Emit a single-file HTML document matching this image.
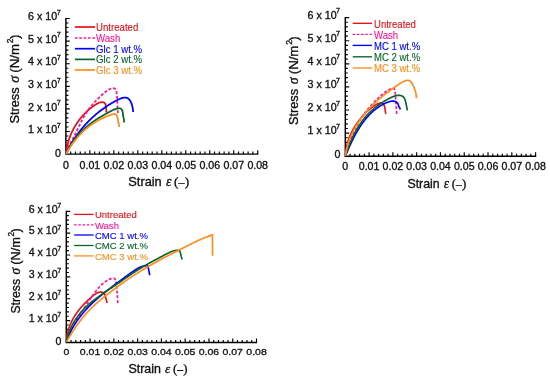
<!DOCTYPE html>
<html><head><meta charset="utf-8"><title>Stress-strain curves</title>
<style>
html,body{margin:0;padding:0;background:#fff}
svg{display:block}
text{font-family:"Liberation Sans", sans-serif;fill:#111;stroke:#111;stroke-width:0.33px}
.it{font-family:"Liberation Serif", serif;font-style:italic}
.se{font-family:"Liberation Serif", serif}
.lg{stroke-width:0.12px}
</style></head><body>
<svg width="550" height="380" viewBox="0 0 550 380">
<rect width="550" height="380" fill="#fff"/>
<g>
<path d="M65.9 17.9 V154.1 H258.3" fill="none" stroke="#000" stroke-width="1.45" stroke-linejoin="miter"/>
<path d="M65.9 149.58 h2.55 M65.9 145.06 h2.55 M65.9 140.54 h2.55 M65.9 136.02 h2.55 M65.9 131.5 h3.9 M65.9 126.98 h2.55 M65.9 122.46 h2.55 M65.9 117.94 h2.55 M65.9 113.42 h2.55 M65.9 108.9 h3.9 M65.9 104.38 h2.55 M65.9 99.86 h2.55 M65.9 95.34 h2.55 M65.9 90.82 h2.55 M65.9 86.3 h3.9 M65.9 81.78 h2.55 M65.9 77.26 h2.55 M65.9 72.74 h2.55 M65.9 68.22 h2.55 M65.9 63.7 h3.9 M65.9 59.18 h2.55 M65.9 54.66 h2.55 M65.9 50.14 h2.55 M65.9 45.62 h2.55 M65.9 41.1 h3.9 M65.9 36.58 h2.55 M65.9 32.06 h2.55 M65.9 27.54 h2.55 M65.9 23.02 h2.55 M65.9 18.5 h3.9 M70.7 154.1 v-2.55 M75.49 154.1 v-2.55 M80.29 154.1 v-2.55 M85.08 154.1 v-2.55 M89.88 154.1 v-3.9 M94.67 154.1 v-2.55 M99.47 154.1 v-2.55 M104.26 154.1 v-2.55 M109.06 154.1 v-2.55 M113.85 154.1 v-3.9 M118.64 154.1 v-2.55 M123.44 154.1 v-2.55 M128.24 154.1 v-2.55 M133.03 154.1 v-2.55 M137.82 154.1 v-3.9 M142.62 154.1 v-2.55 M147.42 154.1 v-2.55 M152.21 154.1 v-2.55 M157 154.1 v-2.55 M161.8 154.1 v-3.9 M166.59 154.1 v-2.55 M171.39 154.1 v-2.55 M176.19 154.1 v-2.55 M180.98 154.1 v-2.55 M185.78 154.1 v-3.9 M190.57 154.1 v-2.55 M195.36 154.1 v-2.55 M200.16 154.1 v-2.55 M204.96 154.1 v-2.55 M209.75 154.1 v-3.9 M214.54 154.1 v-2.55 M219.34 154.1 v-2.55 M224.13 154.1 v-2.55 M228.93 154.1 v-2.55 M233.72 154.1 v-3.9 M238.52 154.1 v-2.55 M243.31 154.1 v-2.55 M248.11 154.1 v-2.55 M252.9 154.1 v-2.55 M257.7 154.1 v-3.9" fill="none" stroke="#000" stroke-width="1.15"/>
<text transform="translate(61 156.9)" font-size="10.7" text-anchor="end">0</text>
<text transform="translate(60.7 133.1)" font-size="10.7" text-anchor="end">1 x 10<tspan font-size="7.2" dx="-0.5" dy="-5.3">7</tspan></text>
<text transform="translate(60.7 110.5)" font-size="10.7" text-anchor="end">2 x 10<tspan font-size="7.2" dx="-0.5" dy="-5.3">7</tspan></text>
<text transform="translate(60.7 87.9)" font-size="10.7" text-anchor="end">3 x 10<tspan font-size="7.2" dx="-0.5" dy="-5.3">7</tspan></text>
<text transform="translate(60.7 65.3)" font-size="10.7" text-anchor="end">4 x 10<tspan font-size="7.2" dx="-0.5" dy="-5.3">7</tspan></text>
<text transform="translate(60.7 42.7)" font-size="10.7" text-anchor="end">5 x 10<tspan font-size="7.2" dx="-0.5" dy="-5.3">7</tspan></text>
<text transform="translate(60.7 20.1)" font-size="10.7" text-anchor="end">6 x 10<tspan font-size="7.2" dx="-0.5" dy="-5.3">7</tspan></text>
<text transform="translate(65.9 168.6)" font-size="10.6" text-anchor="middle">0</text>
<text transform="translate(89.88 168.6)" font-size="10.6" text-anchor="middle">0.01</text>
<text transform="translate(113.85 168.6)" font-size="10.6" text-anchor="middle">0.02</text>
<text transform="translate(137.82 168.6)" font-size="10.6" text-anchor="middle">0.03</text>
<text transform="translate(161.8 168.6)" font-size="10.6" text-anchor="middle">0.04</text>
<text transform="translate(185.77 168.6)" font-size="10.6" text-anchor="middle">0.05</text>
<text transform="translate(209.75 168.6)" font-size="10.6" text-anchor="middle">0.06</text>
<text transform="translate(233.72 168.6)" font-size="10.6" text-anchor="middle">0.07</text>
<text transform="translate(257.7 168.6)" font-size="10.6" text-anchor="middle">0.08</text>
<text transform="translate(128.3 186.4)" font-size="12.8">Strain<tspan class="it" font-size="13.6" x="37.6">ε</tspan><tspan class="se" font-size="13.2" x="45.8">(</tspan><tspan class="se" font-size="12" x="50.3">–</tspan><tspan class="se" font-size="13.2" x="56.5">)</tspan></text>
<text transform="translate(19.4 123.5) scale(1.000 1.020) rotate(-90)" font-size="12.5">Stress<tspan class="it" font-size="13.6" x="40">σ</tspan><tspan font-size="13" x="49.8">(N/m</tspan><tspan font-size="8.3" x="78.8" dy="-6.2">2</tspan><tspan font-size="13" x="82.8" dy="6.2">)</tspan></text>
<path d="M66 153.9 L66.06 153.24 L66.13 152.58 L66.2 151.92 L66.28 151.27 L66.37 150.61 L66.47 149.96 L66.57 149.3 L66.68 148.65 L66.8 148 L66.92 147.35 L67.05 146.7 L67.19 146.05 L67.33 145.4 L67.48 144.76 L67.64 144.11 L67.8 143.47 L67.97 142.83 L68.15 142.19 L68.33 141.56 L68.52 140.92 L68.71 140.29 L68.92 139.66 L69.13 139.03 L69.34 138.4 L69.56 137.77 L69.79 137.15 L70.02 136.53 L70.26 135.91 L70.51 135.3 L70.76 134.68 L71.02 134.07 L71.28 133.46 L71.55 132.86 L71.83 132.25 L72.11 131.65 L72.4 131.06 L72.69 130.46 L72.99 129.87 L73.3 129.28 L73.61 128.69 L73.92 128.11 L74.25 127.53 L74.57 126.95 L74.91 126.38 L75.25 125.81 L75.59 125.24 L75.94 124.68 L76.29 124.12 L76.66 123.57 L77.02 123.01 L77.39 122.47 L77.77 121.92 L78.15 121.38 L78.54 120.84 L78.93 120.31 L79.33 119.78 L79.73 119.25 L80.14 118.73 L80.55 118.22 L80.97 117.7 L81.39 117.2 L81.82 116.69 L82.25 116.19 L82.69 115.7 L83.13 115.21 L83.58 114.72 L84.03 114.24 L84.48 113.76 L84.94 113.29 L85.41 112.82 L85.88 112.36 L86.35 111.9 L86.83 111.45 L87.32 111 L87.81 110.56 L88.3 110.12 L88.8 109.69 L89.31 109.26 L89.82 108.83 L90.33 108.42 L90.85 108 L91.38 107.59 L91.91 107.19 L92.44 106.79 L92.99 106.39 L93.53 106 L94.09 105.62 L94.64 105.23 L95.21 104.86 L95.78 104.49 L96.35 104.13 L96.94 103.79 L97.53 103.48 L98.12 103.18 L98.73 102.92 L99.34 102.69 L99.96 102.51 L100.59 102.36 L101.23 102.26 L101.88 102.22 L102.54 102.23 L103.2 102.32 L103.81 102.51 L104.35 102.82 L104.8 103.27 L105.16 103.82 L105.45 104.44 L105.67 105.1 L105.84 105.76 L105.96 106.43 L106.05 107.11 L106.11 107.78 L106.15 108.45 L106.18 109.13 L106.21 109.79 L106.25 110.46 L106.3 111.11 L106.38 111.76 L106.5 112.4" fill="none" stroke="#e31118" stroke-width="1.75" stroke-linejoin="round"/>
<path d="M66 153.9 L66.16 152.97 L66.37 152.07 L66.62 151.17 L66.9 150.3 L67.21 149.43 L67.56 148.58 L67.92 147.74 L68.32 146.9 L68.73 146.08 L69.16 145.26 L69.6 144.45 L70.06 143.64 L70.52 142.84 L70.98 142.04 L71.45 141.23 L71.91 140.43 L72.37 139.63 L72.82 138.82 L73.26 138.01 L73.7 137.19 L74.12 136.38 L74.55 135.56 L74.96 134.74 L75.37 133.91 L75.78 133.09 L76.19 132.26 L76.59 131.43 L76.99 130.6 L77.39 129.77 L77.78 128.94 L78.18 128.1 L78.58 127.27 L78.98 126.44 L79.39 125.61 L79.79 124.77 L80.2 123.94 L80.61 123.11 L81.02 122.28 L81.44 121.46 L81.87 120.63 L82.29 119.81 L82.73 119 L83.16 118.18 L83.61 117.37 L84.06 116.57 L84.52 115.76 L84.98 114.97 L85.45 114.17 L85.94 113.39 L86.43 112.61 L86.92 111.83 L87.43 111.07 L87.95 110.3 L88.48 109.55 L89.02 108.8 L89.57 108.07 L90.13 107.34 L90.71 106.61 L91.29 105.9 L91.89 105.19 L92.49 104.49 L93.1 103.8 L93.73 103.11 L94.35 102.43 L94.99 101.76 L95.63 101.09 L96.28 100.42 L96.93 99.77 L97.59 99.11 L98.25 98.46 L98.91 97.81 L99.58 97.17 L100.24 96.53 L100.91 95.89 L101.58 95.25 L102.25 94.62 L102.93 94 L103.62 93.39 L104.31 92.79 L105.02 92.21 L105.74 91.64 L106.48 91.09 L107.24 90.57 L108.02 90.07 L108.82 89.6 L109.65 89.16 L110.51 88.75 L111.4 88.38 L112.3 88.12 L113.19 88.06 L114.06 88.27 L114.85 88.73 L115.48 89.38 L115.93 90.16 L116.24 91.03 L116.45 91.96 L116.62 92.91 L116.77 93.85 L116.89 94.78 L117 95.71 L117.09 96.64 L117.16 97.56 L117.22 98.48 L117.28 99.4 L117.32 100.32 L117.35 101.23 L117.39 102.15 L117.41 103.06 L117.44 103.98 L117.46 104.89 L117.49 105.8 L117.52 106.72 L117.56 107.64 L117.6 108.56 L117.66 109.48 L117.72 110.4 L117.8 111.33 L117.89 112.26 L118 113.2" fill="none" stroke="#ff1493" stroke-width="1.75" stroke-linejoin="round" stroke-dasharray="3 1.8" stroke-dashoffset="3.39"/>
<path d="M66 153.9 L66.36 153.12 L66.72 152.34 L67.09 151.57 L67.47 150.8 L67.85 150.03 L68.24 149.26 L68.63 148.5 L69.03 147.74 L69.43 146.99 L69.85 146.23 L70.26 145.48 L70.69 144.74 L71.11 143.99 L71.55 143.25 L71.99 142.52 L72.44 141.78 L72.89 141.05 L73.34 140.33 L73.81 139.61 L74.27 138.89 L74.75 138.17 L75.23 137.46 L75.71 136.75 L76.2 136.05 L76.69 135.34 L77.19 134.65 L77.7 133.95 L78.21 133.26 L78.72 132.58 L79.25 131.9 L79.77 131.22 L80.3 130.54 L80.84 129.87 L81.38 129.21 L81.93 128.55 L82.48 127.89 L83.03 127.23 L83.59 126.58 L84.16 125.94 L84.73 125.3 L85.3 124.66 L85.88 124.03 L86.47 123.4 L87.06 122.78 L87.65 122.16 L88.25 121.54 L88.85 120.93 L89.46 120.32 L90.07 119.72 L90.69 119.13 L91.31 118.53 L91.93 117.94 L92.56 117.36 L93.2 116.78 L93.84 116.21 L94.48 115.64 L95.13 115.08 L95.78 114.52 L96.43 113.96 L97.09 113.41 L97.75 112.87 L98.42 112.33 L99.09 111.79 L99.77 111.27 L100.45 110.74 L101.13 110.22 L101.82 109.71 L102.51 109.2 L103.2 108.7 L103.9 108.2 L104.6 107.7 L105.31 107.22 L106.02 106.73 L106.73 106.26 L107.45 105.79 L108.17 105.32 L108.89 104.86 L109.62 104.4 L110.35 103.96 L111.08 103.51 L111.81 103.07 L112.55 102.64 L113.3 102.21 L114.04 101.79 L114.79 101.38 L115.54 100.97 L116.3 100.57 L117.06 100.17 L117.83 99.79 L118.61 99.42 L119.4 99.06 L120.2 98.72 L121.02 98.4 L121.85 98.1 L122.7 97.84 L123.55 97.64 L124.39 97.52 L125.22 97.5 L126.02 97.59 L126.8 97.81 L127.54 98.14 L128.23 98.59 L128.87 99.14 L129.45 99.77 L129.97 100.47 L130.43 101.22 L130.85 102 L131.21 102.81 L131.53 103.63 L131.81 104.45 L132.06 105.27 L132.27 106.1 L132.45 106.93 L132.61 107.76 L132.75 108.6 L132.87 109.44 L132.99 110.29 L133.1 111.14 L133.2 112" fill="none" stroke="#0000ff" stroke-width="1.75" stroke-linejoin="round"/>
<path d="M66 153.9 L66.3 153.22 L66.6 152.54 L66.91 151.86 L67.23 151.19 L67.56 150.52 L67.89 149.86 L68.23 149.2 L68.58 148.54 L68.94 147.89 L69.3 147.25 L69.68 146.61 L70.05 145.97 L70.44 145.34 L70.83 144.71 L71.23 144.08 L71.63 143.46 L72.05 142.85 L72.46 142.24 L72.89 141.63 L73.32 141.03 L73.76 140.43 L74.2 139.84 L74.65 139.25 L75.1 138.66 L75.56 138.08 L76.03 137.51 L76.5 136.93 L76.98 136.37 L77.46 135.8 L77.95 135.25 L78.45 134.69 L78.95 134.14 L79.45 133.6 L79.96 133.06 L80.47 132.52 L80.99 131.99 L81.52 131.46 L82.05 130.94 L82.58 130.42 L83.12 129.91 L83.66 129.4 L84.21 128.9 L84.76 128.4 L85.31 127.91 L85.87 127.42 L86.44 126.93 L87 126.45 L87.58 125.97 L88.15 125.5 L88.73 125.04 L89.31 124.57 L89.9 124.12 L90.49 123.66 L91.08 123.22 L91.67 122.77 L92.27 122.33 L92.87 121.9 L93.48 121.47 L94.08 121.05 L94.69 120.63 L95.31 120.21 L95.92 119.8 L96.54 119.39 L97.16 118.99 L97.79 118.59 L98.41 118.19 L99.04 117.8 L99.67 117.41 L100.3 117.03 L100.94 116.64 L101.57 116.26 L102.21 115.89 L102.85 115.52 L103.5 115.15 L104.14 114.78 L104.79 114.42 L105.44 114.05 L106.08 113.7 L106.74 113.34 L107.39 112.98 L108.04 112.63 L108.7 112.28 L109.35 111.93 L110.01 111.59 L110.67 111.24 L111.33 110.9 L112 110.57 L112.67 110.24 L113.34 109.93 L114.03 109.64 L114.72 109.36 L115.43 109.11 L116.15 108.88 L116.89 108.69 L117.64 108.53 L118.39 108.41 L119.13 108.37 L119.83 108.42 L120.49 108.57 L121.07 108.86 L121.57 109.3 L121.97 109.89 L122.29 110.59 L122.54 111.39 L122.72 112.25 L122.86 113.13 L122.96 114.01 L123.04 114.84 L123.11 115.61 L123.17 116.28 L123.25 116.82 L123.34 117.19 L123.46 117.44 L123.59 117.67 L123.72 117.99 L123.84 118.53 L123.93 119.38 L123.99 120.67 L124 122.5" fill="none" stroke="#0a6428" stroke-width="1.75" stroke-linejoin="round"/>
<path d="M66 153.9 L66.33 153.33 L66.67 152.75 L67 152.18 L67.34 151.61 L67.69 151.04 L68.04 150.48 L68.39 149.91 L68.74 149.35 L69.1 148.78 L69.46 148.22 L69.83 147.67 L70.2 147.11 L70.57 146.56 L70.95 146 L71.33 145.45 L71.71 144.91 L72.1 144.36 L72.49 143.82 L72.88 143.28 L73.28 142.74 L73.68 142.21 L74.08 141.67 L74.49 141.14 L74.9 140.62 L75.32 140.09 L75.74 139.57 L76.16 139.06 L76.58 138.54 L77.01 138.03 L77.45 137.52 L77.88 137.02 L78.32 136.51 L78.77 136.02 L79.22 135.52 L79.67 135.03 L80.12 134.54 L80.58 134.06 L81.05 133.58 L81.51 133.1 L81.98 132.63 L82.46 132.16 L82.94 131.7 L83.42 131.24 L83.91 130.78 L84.4 130.33 L84.89 129.88 L85.39 129.44 L85.89 129 L86.39 128.57 L86.9 128.14 L87.41 127.71 L87.93 127.3 L88.45 126.88 L88.98 126.47 L89.51 126.07 L90.04 125.67 L90.57 125.27 L91.11 124.88 L91.66 124.5 L92.21 124.12 L92.76 123.74 L93.31 123.37 L93.87 123.01 L94.43 122.65 L95 122.3 L95.57 121.95 L96.14 121.6 L96.71 121.27 L97.29 120.93 L97.87 120.6 L98.46 120.28 L99.04 119.96 L99.63 119.65 L100.22 119.34 L100.82 119.04 L101.41 118.74 L102.01 118.45 L102.62 118.16 L103.22 117.88 L103.82 117.6 L104.43 117.33 L105.04 117.06 L105.65 116.8 L106.27 116.54 L106.88 116.28 L107.5 116.04 L108.12 115.79 L108.74 115.56 L109.36 115.32 L109.99 115.09 L110.62 114.86 L111.26 114.63 L111.91 114.41 L112.56 114.18 L113.22 113.99 L113.87 113.88 L114.5 113.89 L115.1 114.04 L115.65 114.33 L116.14 114.73 L116.54 115.22 L116.89 115.79 L117.17 116.42 L117.4 117.1 L117.59 117.81 L117.74 118.54 L117.86 119.26 L117.97 119.97 L118.07 120.64 L118.16 121.27 L118.25 121.84 L118.36 122.33 L118.48 122.76 L118.61 123.19 L118.74 123.67 L118.87 124.24 L118.99 124.95 L119.1 125.85 L119.2 127" fill="none" stroke="#ff8c1a" stroke-width="1.75" stroke-linejoin="round"/>
<path d="M74.9 27 H95" stroke="#e31118" stroke-width="1.7" fill="none"/>
<text transform="translate(96 30.85) scale(0.937 1.000)" font-size="10.3" class="lg" style="fill:#e31118;stroke:#e31118">Untreated</text>
<path d="M74.9 38 H95" stroke="#ff1493" stroke-width="1.7" fill="none" stroke-dasharray="2.6 1.75"/>
<text transform="translate(96 41.85) scale(0.937 1.000)" font-size="10.3" class="lg" style="fill:#ff1493;stroke:#ff1493">Wash</text>
<path d="M74.9 48.7 H95" stroke="#0000ff" stroke-width="1.7" fill="none"/>
<text transform="translate(96 52.55) scale(0.937 1.000)" font-size="10.3" class="lg" style="fill:#0000ff;stroke:#0000ff">Glc 1 wt.%</text>
<path d="M74.9 59.4 H95" stroke="#0a6428" stroke-width="1.7" fill="none"/>
<text transform="translate(96 63.25) scale(0.937 1.000)" font-size="10.3" class="lg" style="fill:#0a6428;stroke:#0a6428">Glc 2 wt.%</text>
<path d="M74.9 70 H95" stroke="#ff8c1a" stroke-width="1.7" fill="none"/>
<text transform="translate(96 73.85) scale(0.937 1.000)" font-size="10.3" class="lg" style="fill:#ff8c1a;stroke:#ff8c1a">Glc 3 wt.%</text>
</g>
<g>
<path d="M345.3 17 V156.2 H536.2" fill="none" stroke="#000" stroke-width="1.45" stroke-linejoin="miter"/>
<path d="M345.3 151.58 h2.55 M345.3 146.96 h2.55 M345.3 142.34 h2.55 M345.3 137.72 h2.55 M345.3 133.1 h3.9 M345.3 128.48 h2.55 M345.3 123.86 h2.55 M345.3 119.24 h2.55 M345.3 114.62 h2.55 M345.3 110 h3.9 M345.3 105.38 h2.55 M345.3 100.76 h2.55 M345.3 96.14 h2.55 M345.3 91.52 h2.55 M345.3 86.9 h3.9 M345.3 82.28 h2.55 M345.3 77.66 h2.55 M345.3 73.04 h2.55 M345.3 68.42 h2.55 M345.3 63.8 h3.9 M345.3 59.18 h2.55 M345.3 54.56 h2.55 M345.3 49.94 h2.55 M345.3 45.32 h2.55 M345.3 40.7 h3.9 M345.3 36.08 h2.55 M345.3 31.46 h2.55 M345.3 26.84 h2.55 M345.3 22.22 h2.55 M345.3 17.6 h3.9 M350.06 156.2 v-2.55 M354.81 156.2 v-2.55 M359.57 156.2 v-2.55 M364.33 156.2 v-2.55 M369.09 156.2 v-3.9 M373.85 156.2 v-2.55 M378.6 156.2 v-2.55 M383.36 156.2 v-2.55 M388.12 156.2 v-2.55 M392.88 156.2 v-3.9 M397.63 156.2 v-2.55 M402.39 156.2 v-2.55 M407.15 156.2 v-2.55 M411.91 156.2 v-2.55 M416.66 156.2 v-3.9 M421.42 156.2 v-2.55 M426.18 156.2 v-2.55 M430.94 156.2 v-2.55 M435.69 156.2 v-2.55 M440.45 156.2 v-3.9 M445.21 156.2 v-2.55 M449.97 156.2 v-2.55 M454.72 156.2 v-2.55 M459.48 156.2 v-2.55 M464.24 156.2 v-3.9 M469 156.2 v-2.55 M473.75 156.2 v-2.55 M478.51 156.2 v-2.55 M483.27 156.2 v-2.55 M488.02 156.2 v-3.9 M492.78 156.2 v-2.55 M497.54 156.2 v-2.55 M502.3 156.2 v-2.55 M507.06 156.2 v-2.55 M511.81 156.2 v-3.9 M516.57 156.2 v-2.55 M521.33 156.2 v-2.55 M526.09 156.2 v-2.55 M530.84 156.2 v-2.55 M535.6 156.2 v-3.9" fill="none" stroke="#000" stroke-width="1.15"/>
<text transform="translate(340.4 158.4) scale(1.000 1.019)" font-size="10.7" text-anchor="end">0</text>
<text transform="translate(340.1 134.1) scale(1.000 1.019)" font-size="10.7" text-anchor="end">1 x 10<tspan font-size="7.2" dx="-0.5" dy="-5.3">7</tspan></text>
<text transform="translate(340.1 111) scale(1.000 1.019)" font-size="10.7" text-anchor="end">2 x 10<tspan font-size="7.2" dx="-0.5" dy="-5.3">7</tspan></text>
<text transform="translate(340.1 87.9) scale(1.000 1.019)" font-size="10.7" text-anchor="end">3 x 10<tspan font-size="7.2" dx="-0.5" dy="-5.3">7</tspan></text>
<text transform="translate(340.1 64.8) scale(1.000 1.019)" font-size="10.7" text-anchor="end">4 x 10<tspan font-size="7.2" dx="-0.5" dy="-5.3">7</tspan></text>
<text transform="translate(340.1 41.7) scale(1.000 1.019)" font-size="10.7" text-anchor="end">5 x 10<tspan font-size="7.2" dx="-0.5" dy="-5.3">7</tspan></text>
<text transform="translate(340.1 18.6) scale(1.000 1.019)" font-size="10.7" text-anchor="end">6 x 10<tspan font-size="7.2" dx="-0.5" dy="-5.3">7</tspan></text>
<text transform="translate(345.3 169.8) scale(1.000 1.019)" font-size="10.6" text-anchor="middle">0</text>
<text transform="translate(369.09 169.8) scale(1.000 1.019)" font-size="10.6" text-anchor="middle">0.01</text>
<text transform="translate(392.88 169.8) scale(1.000 1.019)" font-size="10.6" text-anchor="middle">0.02</text>
<text transform="translate(416.66 169.8) scale(1.000 1.019)" font-size="10.6" text-anchor="middle">0.03</text>
<text transform="translate(440.45 169.8) scale(1.000 1.019)" font-size="10.6" text-anchor="middle">0.04</text>
<text transform="translate(464.24 169.8) scale(1.000 1.019)" font-size="10.6" text-anchor="middle">0.05</text>
<text transform="translate(488.03 169.8) scale(1.000 1.019)" font-size="10.6" text-anchor="middle">0.06</text>
<text transform="translate(511.81 169.8) scale(1.000 1.019)" font-size="10.6" text-anchor="middle">0.07</text>
<text transform="translate(535.6 169.8) scale(1.000 1.019)" font-size="10.6" text-anchor="middle">0.08</text>
<text transform="translate(407.4 187.5) scale(0.968 1.000)" font-size="12.8">Strain<tspan class="it" font-size="13.6" x="37.6">ε</tspan><tspan class="se" font-size="13.2" x="45.8">(</tspan><tspan class="se" font-size="12" x="50.3">–</tspan><tspan class="se" font-size="13.2" x="56.5">)</tspan></text>
<text transform="translate(298.4 125) scale(1.000 1.019) rotate(-90)" font-size="12.5">Stress<tspan class="it" font-size="13.6" x="40">σ</tspan><tspan font-size="13" x="49.8">(N/m</tspan><tspan font-size="8.3" x="78.8" dy="-6.2">2</tspan><tspan font-size="13" x="82.8" dy="6.2">)</tspan></text>
<path d="M345.5 155.9 L345.52 155.22 L345.55 154.54 L345.59 153.86 L345.64 153.18 L345.7 152.51 L345.76 151.83 L345.84 151.16 L345.92 150.49 L346.01 149.82 L346.11 149.16 L346.22 148.49 L346.34 147.83 L346.47 147.17 L346.6 146.51 L346.74 145.85 L346.89 145.2 L347.05 144.55 L347.22 143.89 L347.39 143.25 L347.57 142.6 L347.76 141.95 L347.96 141.31 L348.16 140.67 L348.38 140.04 L348.6 139.4 L348.82 138.77 L349.06 138.14 L349.3 137.51 L349.54 136.88 L349.8 136.26 L350.06 135.64 L350.33 135.02 L350.6 134.41 L350.88 133.8 L351.17 133.19 L351.46 132.58 L351.76 131.98 L352.07 131.38 L352.38 130.78 L352.7 130.18 L353.02 129.59 L353.35 129 L353.69 128.42 L354.03 127.83 L354.38 127.25 L354.73 126.68 L355.09 126.1 L355.45 125.53 L355.82 124.97 L356.2 124.4 L356.58 123.84 L356.96 123.29 L357.35 122.73 L357.75 122.18 L358.15 121.64 L358.55 121.1 L358.96 120.56 L359.37 120.02 L359.79 119.49 L360.21 118.96 L360.64 118.44 L361.07 117.92 L361.5 117.4 L361.94 116.89 L362.38 116.38 L362.83 115.87 L363.28 115.37 L363.74 114.88 L364.19 114.38 L364.66 113.89 L365.12 113.41 L365.59 112.93 L366.07 112.45 L366.54 111.98 L367.03 111.52 L367.51 111.06 L368.01 110.6 L368.51 110.15 L369.01 109.71 L369.52 109.27 L370.03 108.83 L370.55 108.41 L371.07 107.98 L371.6 107.57 L372.14 107.16 L372.68 106.75 L373.23 106.35 L373.79 105.96 L374.35 105.58 L374.92 105.21 L375.5 104.85 L376.09 104.51 L376.69 104.19 L377.3 103.9 L377.92 103.64 L378.56 103.41 L379.21 103.22 L379.87 103.07 L380.55 102.97 L381.23 102.94 L381.87 103.02 L382.46 103.24 L382.98 103.61 L383.42 104.11 L383.8 104.69 L384.11 105.3 L384.36 105.94 L384.57 106.6 L384.74 107.27 L384.87 107.95 L384.98 108.64 L385.08 109.33 L385.18 110.01 L385.27 110.7 L385.38 111.37 L385.51 112.03 L385.67 112.68 L385.86 113.3 L386.1 113.9" fill="none" stroke="#e31118" stroke-width="1.65" stroke-linejoin="round"/>
<path d="M345.5 155.9 L345.7 154.98 L345.91 154.06 L346.13 153.15 L346.36 152.24 L346.59 151.32 L346.83 150.41 L347.08 149.5 L347.34 148.6 L347.6 147.69 L347.88 146.79 L348.16 145.89 L348.44 144.99 L348.74 144.1 L349.04 143.21 L349.35 142.32 L349.66 141.43 L349.99 140.54 L350.32 139.66 L350.66 138.78 L351 137.9 L351.36 137.03 L351.72 136.16 L352.08 135.29 L352.46 134.42 L352.84 133.56 L353.23 132.7 L353.63 131.84 L354.03 130.99 L354.44 130.14 L354.86 129.3 L355.28 128.46 L355.72 127.62 L356.15 126.78 L356.6 125.95 L357.05 125.13 L357.51 124.3 L357.98 123.48 L358.46 122.67 L358.94 121.86 L359.42 121.05 L359.92 120.25 L360.42 119.45 L360.93 118.66 L361.45 117.87 L361.97 117.09 L362.5 116.31 L363.03 115.53 L363.58 114.76 L364.12 114 L364.68 113.24 L365.24 112.48 L365.81 111.73 L366.39 110.99 L366.97 110.25 L367.56 109.51 L368.16 108.78 L368.76 108.06 L369.37 107.34 L369.98 106.63 L370.61 105.92 L371.23 105.22 L371.87 104.52 L372.51 103.83 L373.15 103.14 L373.8 102.46 L374.46 101.79 L375.12 101.11 L375.79 100.45 L376.46 99.79 L377.14 99.13 L377.82 98.48 L378.5 97.83 L379.19 97.18 L379.88 96.55 L380.58 95.91 L381.28 95.28 L381.98 94.65 L382.7 94.04 L383.42 93.43 L384.15 92.84 L384.9 92.27 L385.66 91.71 L386.43 91.17 L387.23 90.66 L388.04 90.17 L388.88 89.71 L389.74 89.28 L390.63 88.88 L391.54 88.52 L392.45 88.3 L393.3 88.33 L394.05 88.72 L394.62 89.41 L394.97 90.26 L395.15 91.2 L395.23 92.19 L395.29 93.19 L395.35 94.17 L395.42 95.14 L395.48 96.1 L395.55 97.05 L395.62 97.99 L395.69 98.93 L395.76 99.86 L395.83 100.79 L395.9 101.71 L395.97 102.63 L396.03 103.55 L396.1 104.47 L396.16 105.4 L396.23 106.32 L396.29 107.24 L396.34 108.17 L396.4 109.11 L396.45 110.05 L396.49 111 L396.53 111.96 L396.57 112.92 L396.6 113.9" fill="none" stroke="#ff1493" stroke-width="1.65" stroke-linejoin="round" stroke-dasharray="3 1.8" stroke-dashoffset="1.26"/>
<path d="M345.5 155.9 L345.78 155.23 L346.06 154.55 L346.34 153.87 L346.62 153.2 L346.9 152.52 L347.19 151.84 L347.47 151.17 L347.76 150.49 L348.05 149.81 L348.34 149.14 L348.63 148.46 L348.93 147.78 L349.23 147.11 L349.53 146.43 L349.83 145.76 L350.13 145.08 L350.44 144.41 L350.75 143.73 L351.06 143.06 L351.37 142.39 L351.69 141.72 L352.01 141.05 L352.33 140.39 L352.66 139.72 L352.98 139.06 L353.32 138.39 L353.65 137.73 L353.99 137.07 L354.33 136.41 L354.67 135.76 L355.02 135.11 L355.37 134.45 L355.73 133.8 L356.09 133.16 L356.45 132.51 L356.81 131.87 L357.18 131.23 L357.56 130.6 L357.94 129.96 L358.32 129.33 L358.7 128.7 L359.1 128.08 L359.49 127.45 L359.89 126.84 L360.29 126.22 L360.7 125.61 L361.12 125 L361.53 124.4 L361.96 123.79 L362.38 123.2 L362.82 122.6 L363.25 122.01 L363.7 121.43 L364.15 120.85 L364.6 120.27 L365.06 119.7 L365.52 119.13 L365.99 118.56 L366.47 118 L366.95 117.45 L367.43 116.9 L367.93 116.35 L368.42 115.81 L368.93 115.28 L369.44 114.75 L369.96 114.22 L370.48 113.71 L371.01 113.19 L371.54 112.69 L372.08 112.18 L372.63 111.69 L373.18 111.2 L373.74 110.72 L374.31 110.24 L374.88 109.78 L375.45 109.32 L376.04 108.86 L376.63 108.42 L377.22 107.98 L377.83 107.55 L378.44 107.13 L379.05 106.72 L379.67 106.31 L380.3 105.92 L380.93 105.53 L381.57 105.16 L382.22 104.79 L382.87 104.43 L383.53 104.08 L384.19 103.75 L384.87 103.42 L385.54 103.1 L386.23 102.79 L386.92 102.5 L387.62 102.22 L388.32 101.95 L389.02 101.71 L389.73 101.5 L390.44 101.33 L391.15 101.2 L391.85 101.11 L392.56 101.08 L393.26 101.11 L393.96 101.2 L394.65 101.36 L395.34 101.6 L396.02 101.91 L396.67 102.32 L397.27 102.81 L397.73 103.4 L398.06 104.08 L398.28 104.8 L398.48 105.54 L398.71 106.23 L399.04 106.86 L399.46 107.42 L399.83 108.02 L400.02 108.75 L399.9 109.7" fill="none" stroke="#0000ff" stroke-width="1.65" stroke-linejoin="round"/>
<path d="M345.5 155.9 L345.76 155.08 L346.02 154.25 L346.28 153.43 L346.55 152.61 L346.82 151.79 L347.1 150.97 L347.38 150.15 L347.67 149.33 L347.97 148.51 L348.26 147.69 L348.57 146.87 L348.88 146.06 L349.19 145.24 L349.51 144.43 L349.83 143.62 L350.16 142.81 L350.5 142.01 L350.84 141.2 L351.19 140.4 L351.54 139.6 L351.9 138.8 L352.26 138.01 L352.63 137.22 L353.01 136.43 L353.39 135.64 L353.78 134.86 L354.17 134.08 L354.57 133.31 L354.98 132.53 L355.39 131.77 L355.81 131 L356.24 130.24 L356.67 129.49 L357.11 128.73 L357.55 127.99 L358.01 127.24 L358.47 126.5 L358.93 125.77 L359.4 125.04 L359.88 124.32 L360.37 123.6 L360.86 122.88 L361.36 122.18 L361.87 121.47 L362.39 120.78 L362.91 120.09 L363.44 119.4 L363.98 118.72 L364.52 118.05 L365.07 117.38 L365.63 116.72 L366.2 116.07 L366.78 115.42 L367.36 114.78 L367.95 114.15 L368.55 113.52 L369.16 112.91 L369.77 112.29 L370.39 111.69 L371.02 111.09 L371.66 110.51 L372.31 109.92 L372.96 109.35 L373.62 108.78 L374.29 108.23 L374.97 107.67 L375.65 107.13 L376.34 106.6 L377.03 106.07 L377.73 105.55 L378.44 105.03 L379.15 104.53 L379.87 104.03 L380.6 103.54 L381.32 103.05 L382.06 102.58 L382.8 102.11 L383.54 101.65 L384.29 101.2 L385.05 100.75 L385.81 100.31 L386.57 99.88 L387.34 99.46 L388.11 99.04 L388.88 98.64 L389.66 98.24 L390.44 97.84 L391.23 97.46 L392.02 97.09 L392.81 96.74 L393.62 96.42 L394.42 96.13 L395.24 95.87 L396.07 95.66 L396.91 95.51 L397.76 95.4 L398.62 95.36 L399.49 95.39 L400.38 95.49 L401.25 95.68 L402.07 95.99 L402.8 96.42 L403.43 96.98 L403.97 97.65 L404.42 98.4 L404.81 99.22 L405.13 100.08 L405.41 100.96 L405.64 101.84 L405.84 102.71 L406.01 103.53 L406.17 104.29 L406.33 105 L406.48 105.69 L406.63 106.41 L406.78 107.19 L406.94 108.07 L407.11 109.1 L407.3 110.3" fill="none" stroke="#0a6428" stroke-width="1.65" stroke-linejoin="round"/>
<path d="M345.5 155.9 L345.64 154.86 L345.79 153.83 L345.95 152.8 L346.13 151.77 L346.33 150.75 L346.54 149.73 L346.77 148.72 L347.01 147.71 L347.26 146.71 L347.53 145.71 L347.81 144.72 L348.11 143.73 L348.42 142.74 L348.74 141.76 L349.08 140.79 L349.43 139.82 L349.79 138.85 L350.17 137.89 L350.55 136.94 L350.95 135.99 L351.37 135.04 L351.79 134.1 L352.23 133.17 L352.67 132.24 L353.13 131.31 L353.6 130.39 L354.09 129.48 L354.58 128.57 L355.08 127.67 L355.6 126.77 L356.12 125.88 L356.66 125 L357.2 124.12 L357.76 123.24 L358.32 122.37 L358.9 121.51 L359.48 120.65 L360.07 119.8 L360.67 118.96 L361.29 118.12 L361.91 117.29 L362.53 116.46 L363.17 115.64 L363.82 114.83 L364.47 114.02 L365.13 113.21 L365.8 112.42 L366.47 111.63 L367.16 110.85 L367.85 110.07 L368.55 109.3 L369.25 108.54 L369.96 107.78 L370.68 107.03 L371.4 106.29 L372.14 105.55 L372.87 104.82 L373.61 104.09 L374.36 103.38 L375.12 102.67 L375.87 101.97 L376.64 101.27 L377.41 100.58 L378.18 99.9 L378.96 99.22 L379.74 98.55 L380.53 97.88 L381.32 97.22 L382.12 96.57 L382.92 95.92 L383.73 95.27 L384.54 94.64 L385.35 94 L386.17 93.37 L386.99 92.74 L387.82 92.12 L388.65 91.5 L389.48 90.89 L390.32 90.28 L391.16 89.67 L392 89.07 L392.84 88.47 L393.69 87.87 L394.54 87.28 L395.4 86.68 L396.25 86.09 L397.11 85.5 L397.97 84.92 L398.84 84.33 L399.71 83.76 L400.59 83.2 L401.48 82.66 L402.38 82.14 L403.3 81.66 L404.24 81.21 L405.21 80.8 L406.19 80.46 L407.17 80.25 L408.14 80.25 L409.07 80.5 L409.93 80.99 L410.71 81.68 L411.41 82.5 L412.03 83.4 L412.57 84.32 L413.06 85.26 L413.51 86.22 L413.91 87.18 L414.3 88.14 L414.66 89.11 L414.99 90.07 L415.29 91.05 L415.56 92.03 L415.8 93.02 L416 94.02 L416.16 95.04 L416.28 96.07 L416.36 97.13 L416.4 98.2" fill="none" stroke="#ff8c1a" stroke-width="1.65" stroke-linejoin="round"/>
<path d="M352.7 23.3 H372" stroke="#e31118" stroke-width="1.35" fill="none"/>
<text transform="translate(374 27.6) scale(0.927 1.000)" font-size="10.3" class="lg" style="fill:#e31118;stroke:#e31118">Untreated</text>
<path d="M352.7 34.3 H372" stroke="#ff1493" stroke-width="1.35" fill="none" stroke-dasharray="2.5 1.7"/>
<text transform="translate(374 38.6) scale(0.927 1.000)" font-size="10.3" class="lg" style="fill:#ff1493;stroke:#ff1493">Wash</text>
<path d="M352.7 45.4 H372" stroke="#0000ff" stroke-width="1.35" fill="none"/>
<text transform="translate(374 49.7) scale(0.927 1.000)" font-size="10.3" class="lg" style="fill:#0000ff;stroke:#0000ff">MC 1 wt.%</text>
<path d="M352.7 56.8 H372" stroke="#0a6428" stroke-width="1.35" fill="none"/>
<text transform="translate(374 61.1) scale(0.927 1.000)" font-size="10.3" class="lg" style="fill:#0a6428;stroke:#0a6428">MC 2 wt.%</text>
<path d="M352.7 68 H372" stroke="#ff8c1a" stroke-width="1.35" fill="none"/>
<text transform="translate(374 72.3) scale(0.927 1.000)" font-size="10.3" class="lg" style="fill:#ff8c1a;stroke:#ff8c1a">MC 3 wt.%</text>
</g>
<g>
<path d="M66.3 210.7 V342.5 H257.1" fill="none" stroke="#000" stroke-width="1.45" stroke-linejoin="miter"/>
<path d="M66.3 338.13 h2.55 M66.3 333.75 h2.55 M66.3 329.38 h2.55 M66.3 325.01 h2.55 M66.3 320.63 h3.9 M66.3 316.26 h2.55 M66.3 311.89 h2.55 M66.3 307.51 h2.55 M66.3 303.14 h2.55 M66.3 298.77 h3.9 M66.3 294.39 h2.55 M66.3 290.02 h2.55 M66.3 285.65 h2.55 M66.3 281.27 h2.55 M66.3 276.9 h3.9 M66.3 272.53 h2.55 M66.3 268.15 h2.55 M66.3 263.78 h2.55 M66.3 259.41 h2.55 M66.3 255.03 h3.9 M66.3 250.66 h2.55 M66.3 246.29 h2.55 M66.3 241.91 h2.55 M66.3 237.54 h2.55 M66.3 233.17 h3.9 M66.3 228.79 h2.55 M66.3 224.42 h2.55 M66.3 220.05 h2.55 M66.3 215.67 h2.55 M66.3 211.3 h3.9 M71.05 342.5 v-2.55 M75.81 342.5 v-2.55 M80.56 342.5 v-2.55 M85.32 342.5 v-2.55 M90.07 342.5 v-3.9 M94.83 342.5 v-2.55 M99.58 342.5 v-2.55 M104.34 342.5 v-2.55 M109.09 342.5 v-2.55 M113.85 342.5 v-3.9 M118.6 342.5 v-2.55 M123.36 342.5 v-2.55 M128.12 342.5 v-2.55 M132.87 342.5 v-2.55 M137.62 342.5 v-3.9 M142.38 342.5 v-2.55 M147.13 342.5 v-2.55 M151.89 342.5 v-2.55 M156.64 342.5 v-2.55 M161.4 342.5 v-3.9 M166.15 342.5 v-2.55 M170.91 342.5 v-2.55 M175.66 342.5 v-2.55 M180.42 342.5 v-2.55 M185.18 342.5 v-3.9 M189.93 342.5 v-2.55 M194.69 342.5 v-2.55 M199.44 342.5 v-2.55 M204.19 342.5 v-2.55 M208.95 342.5 v-3.9 M213.7 342.5 v-2.55 M218.46 342.5 v-2.55 M223.21 342.5 v-2.55 M227.97 342.5 v-2.55 M232.73 342.5 v-3.9 M237.48 342.5 v-2.55 M242.24 342.5 v-2.55 M246.99 342.5 v-2.55 M251.75 342.5 v-2.55 M256.5 342.5 v-3.9" fill="none" stroke="#000" stroke-width="1.15"/>
<text transform="translate(61.4 345) scale(0.992 0.935)" font-size="10.7" text-anchor="end">0</text>
<text transform="translate(61.1 321.93) scale(0.992 0.935)" font-size="10.7" text-anchor="end">1 x 10<tspan font-size="7.2" dx="-0.5" dy="-5.3">7</tspan></text>
<text transform="translate(61.1 300.07) scale(0.992 0.935)" font-size="10.7" text-anchor="end">2 x 10<tspan font-size="7.2" dx="-0.5" dy="-5.3">7</tspan></text>
<text transform="translate(61.1 278.2) scale(0.992 0.935)" font-size="10.7" text-anchor="end">3 x 10<tspan font-size="7.2" dx="-0.5" dy="-5.3">7</tspan></text>
<text transform="translate(61.1 256.33) scale(0.992 0.935)" font-size="10.7" text-anchor="end">4 x 10<tspan font-size="7.2" dx="-0.5" dy="-5.3">7</tspan></text>
<text transform="translate(61.1 234.47) scale(0.992 0.935)" font-size="10.7" text-anchor="end">5 x 10<tspan font-size="7.2" dx="-0.5" dy="-5.3">7</tspan></text>
<text transform="translate(61.1 212.6) scale(0.992 0.935)" font-size="10.7" text-anchor="end">6 x 10<tspan font-size="7.2" dx="-0.5" dy="-5.3">7</tspan></text>
<text transform="translate(66.3 355.2) scale(0.992 0.930)" font-size="10.6" text-anchor="middle">0</text>
<text transform="translate(90.07 355.2) scale(0.992 0.930)" font-size="10.6" text-anchor="middle">0.01</text>
<text transform="translate(113.85 355.2) scale(0.992 0.930)" font-size="10.6" text-anchor="middle">0.02</text>
<text transform="translate(137.62 355.2) scale(0.992 0.930)" font-size="10.6" text-anchor="middle">0.03</text>
<text transform="translate(161.4 355.2) scale(0.992 0.930)" font-size="10.6" text-anchor="middle">0.04</text>
<text transform="translate(185.18 355.2) scale(0.992 0.930)" font-size="10.6" text-anchor="middle">0.05</text>
<text transform="translate(208.95 355.2) scale(0.992 0.930)" font-size="10.6" text-anchor="middle">0.06</text>
<text transform="translate(232.72 355.2) scale(0.992 0.930)" font-size="10.6" text-anchor="middle">0.07</text>
<text transform="translate(256.5 355.2) scale(0.992 0.930)" font-size="10.6" text-anchor="middle">0.08</text>
<text transform="translate(128.4 372.6) scale(0.972 0.950)" font-size="12.8">Strain<tspan class="it" font-size="13.6" x="37.6">ε</tspan><tspan class="se" font-size="13.2" x="45.8">(</tspan><tspan class="se" font-size="12" x="50.3">–</tspan><tspan class="se" font-size="13.2" x="56.5">)</tspan></text>
<text transform="translate(19.8 313.6) scale(1.000 0.980) rotate(-90)" font-size="12.5">Stress<tspan class="it" font-size="13.6" x="40">σ</tspan><tspan font-size="13" x="49.8">(N/m</tspan><tspan font-size="8.3" x="78.8" dy="-6.2">2</tspan><tspan font-size="13" x="82.8" dy="6.2">)</tspan></text>
<path d="M66.4 342 L66.41 341.43 L66.43 340.86 L66.46 340.29 L66.49 339.73 L66.53 339.16 L66.58 338.59 L66.64 338.03 L66.71 337.47 L66.78 336.91 L66.86 336.35 L66.94 335.79 L67.04 335.23 L67.14 334.68 L67.24 334.13 L67.36 333.57 L67.48 333.02 L67.61 332.47 L67.74 331.93 L67.88 331.38 L68.03 330.84 L68.18 330.29 L68.34 329.75 L68.51 329.21 L68.68 328.68 L68.86 328.14 L69.04 327.61 L69.23 327.08 L69.43 326.55 L69.63 326.02 L69.84 325.49 L70.05 324.97 L70.27 324.45 L70.49 323.93 L70.72 323.41 L70.96 322.9 L71.2 322.38 L71.44 321.87 L71.69 321.36 L71.95 320.86 L72.21 320.35 L72.47 319.85 L72.74 319.35 L73.01 318.86 L73.29 318.36 L73.57 317.87 L73.86 317.38 L74.15 316.89 L74.45 316.41 L74.75 315.93 L75.05 315.45 L75.36 314.97 L75.67 314.5 L75.99 314.03 L76.31 313.56 L76.63 313.1 L76.96 312.63 L77.29 312.17 L77.62 311.72 L77.96 311.26 L78.3 310.81 L78.64 310.36 L78.99 309.92 L79.34 309.48 L79.69 309.04 L80.04 308.6 L80.4 308.17 L80.76 307.74 L81.13 307.31 L81.5 306.89 L81.87 306.47 L82.24 306.05 L82.62 305.63 L83 305.21 L83.38 304.8 L83.76 304.39 L84.15 303.99 L84.54 303.58 L84.93 303.18 L85.33 302.78 L85.73 302.38 L86.13 301.98 L86.53 301.58 L86.94 301.19 L87.35 300.8 L87.76 300.41 L88.17 300.02 L88.59 299.63 L89.01 299.24 L89.43 298.86 L89.85 298.48 L90.28 298.1 L90.71 297.71 L91.14 297.33 L91.58 296.96 L92.01 296.58 L92.45 296.21 L92.9 295.84 L93.35 295.48 L93.8 295.13 L94.26 294.79 L94.72 294.46 L95.19 294.15 L95.67 293.85 L96.15 293.57 L96.64 293.3 L97.14 293.06 L97.65 292.83 L98.17 292.64 L98.7 292.46 L99.23 292.31 L99.78 292.2 L100.33 292.12 L100.88 292.08 L101.43 292.08 L101.98 292.14 L102.53 292.26 L103.06 292.44 L103.59 292.68 L104.1 293 L105.4 296.2 L106.4 300.4 L107.1 303.1" fill="none" stroke="#e31118" stroke-width="1.65" stroke-linejoin="round"/>
<path d="M66.4 342 L66.63 341.31 L66.86 340.62 L67.11 339.93 L67.35 339.25 L67.6 338.57 L67.86 337.89 L68.12 337.22 L68.39 336.54 L68.66 335.87 L68.94 335.2 L69.22 334.54 L69.51 333.87 L69.8 333.21 L70.09 332.55 L70.39 331.9 L70.7 331.24 L71.01 330.59 L71.32 329.94 L71.63 329.29 L71.95 328.64 L72.28 327.99 L72.61 327.35 L72.94 326.71 L73.27 326.07 L73.61 325.43 L73.96 324.79 L74.3 324.16 L74.65 323.53 L75 322.9 L75.36 322.27 L75.71 321.64 L76.07 321.01 L76.44 320.38 L76.8 319.76 L77.17 319.14 L77.54 318.51 L77.92 317.89 L78.29 317.28 L78.67 316.66 L79.05 316.04 L79.43 315.42 L79.82 314.81 L80.21 314.2 L80.59 313.58 L80.98 312.97 L81.37 312.36 L81.77 311.75 L82.16 311.14 L82.56 310.53 L82.95 309.92 L83.35 309.32 L83.75 308.71 L84.15 308.1 L84.55 307.5 L84.95 306.89 L85.35 306.29 L85.76 305.69 L86.16 305.08 L86.56 304.48 L86.97 303.88 L87.37 303.27 L87.77 302.67 L88.18 302.07 L88.58 301.47 L88.99 300.86 L89.39 300.26 L89.79 299.66 L90.2 299.06 L90.6 298.46 L91.01 297.86 L91.42 297.26 L91.83 296.67 L92.24 296.07 L92.65 295.48 L93.07 294.89 L93.48 294.3 L93.91 293.72 L94.33 293.14 L94.76 292.56 L95.2 291.98 L95.64 291.41 L96.08 290.85 L96.53 290.28 L96.99 289.73 L97.45 289.17 L97.92 288.63 L98.39 288.08 L98.87 287.55 L99.36 287.02 L99.86 286.49 L100.37 285.98 L100.88 285.47 L101.4 284.96 L101.93 284.47 L102.47 283.98 L103.03 283.5 L103.59 283.02 L104.16 282.56 L104.74 282.1 L105.33 281.66 L105.94 281.23 L106.55 280.82 L107.17 280.43 L107.8 280.06 L108.44 279.72 L109.09 279.4 L109.75 279.12 L110.42 278.87 L111.09 278.66 L111.77 278.48 L112.46 278.35 L113.16 278.26 L113.85 278.27 L114.51 278.55 L115.08 279.3 L115.55 280.53 L115.89 281.77 L116.08 282.45 L116.1 282 L116.7 287.8 L117.3 295.2 L117.8 303.1" fill="none" stroke="#ff1493" stroke-width="1.65" stroke-linejoin="round" stroke-dasharray="3 1.8" stroke-dashoffset="0.24"/>
<path d="M66.4 342 L66.71 341.07 L67.03 340.16 L67.36 339.24 L67.7 338.33 L68.05 337.43 L68.42 336.53 L68.79 335.64 L69.18 334.76 L69.57 333.88 L69.98 333.01 L70.4 332.14 L70.83 331.28 L71.26 330.42 L71.71 329.57 L72.17 328.72 L72.64 327.88 L73.11 327.05 L73.6 326.22 L74.09 325.39 L74.6 324.58 L75.11 323.76 L75.63 322.96 L76.16 322.15 L76.7 321.36 L77.25 320.57 L77.8 319.78 L78.36 319 L78.93 318.22 L79.51 317.45 L80.09 316.69 L80.69 315.93 L81.29 315.17 L81.89 314.42 L82.51 313.68 L83.13 312.94 L83.75 312.2 L84.38 311.47 L85.02 310.75 L85.67 310.03 L86.32 309.31 L86.98 308.6 L87.64 307.89 L88.31 307.19 L88.98 306.5 L89.66 305.81 L90.34 305.12 L91.03 304.44 L91.72 303.76 L92.42 303.09 L93.12 302.42 L93.83 301.76 L94.53 301.1 L95.25 300.45 L95.97 299.8 L96.69 299.15 L97.41 298.51 L98.14 297.88 L98.87 297.25 L99.6 296.62 L100.34 296 L101.08 295.38 L101.82 294.76 L102.57 294.15 L103.32 293.54 L104.06 292.94 L104.82 292.34 L105.57 291.74 L106.33 291.14 L107.09 290.55 L107.85 289.96 L108.61 289.37 L109.37 288.79 L110.14 288.2 L110.9 287.62 L111.67 287.04 L112.44 286.46 L113.21 285.88 L113.98 285.31 L114.75 284.73 L115.53 284.16 L116.3 283.58 L117.08 283.01 L117.85 282.44 L118.63 281.86 L119.4 281.29 L120.18 280.72 L120.96 280.14 L121.73 279.57 L122.51 278.99 L123.28 278.42 L124.06 277.84 L124.84 277.27 L125.62 276.69 L126.4 276.12 L127.18 275.55 L127.97 274.98 L128.75 274.41 L129.54 273.85 L130.33 273.29 L131.12 272.73 L131.91 272.18 L132.71 271.62 L133.51 271.08 L134.31 270.53 L135.12 270 L135.94 269.48 L136.76 268.97 L137.59 268.48 L138.42 268.02 L139.27 267.59 L140.13 267.19 L141.01 266.83 L141.89 266.51 L142.8 266.24 L143.72 266.01 L144.66 265.84 L145.62 265.73 L146.6 265.68 L147.6 265.7 L148.5 268.9 L149.2 272.6 L149.8 275.3" fill="none" stroke="#0000ff" stroke-width="1.65" stroke-linejoin="round"/>
<path d="M66.4 342 L66.63 340.74 L66.9 339.49 L67.19 338.25 L67.51 337.02 L67.85 335.8 L68.23 334.59 L68.63 333.38 L69.06 332.19 L69.52 331 L70 329.83 L70.5 328.66 L71.03 327.51 L71.58 326.37 L72.16 325.23 L72.76 324.11 L73.38 323.01 L74.02 321.91 L74.69 320.82 L75.37 319.75 L76.07 318.69 L76.8 317.64 L77.54 316.61 L78.3 315.59 L79.08 314.58 L79.88 313.59 L80.69 312.61 L81.52 311.64 L82.36 310.69 L83.22 309.76 L84.1 308.84 L84.99 307.93 L85.89 307.04 L86.8 306.17 L87.73 305.3 L88.67 304.46 L89.62 303.62 L90.58 302.8 L91.56 301.99 L92.54 301.19 L93.53 300.4 L94.53 299.62 L95.54 298.85 L96.55 298.09 L97.57 297.34 L98.6 296.59 L99.63 295.85 L100.67 295.12 L101.72 294.39 L102.76 293.66 L103.82 292.94 L104.87 292.23 L105.93 291.52 L106.99 290.81 L108.05 290.1 L109.11 289.39 L110.17 288.68 L111.23 287.97 L112.29 287.27 L113.35 286.56 L114.4 285.84 L115.46 285.13 L116.51 284.41 L117.56 283.69 L118.61 282.97 L119.65 282.25 L120.7 281.53 L121.75 280.81 L122.79 280.08 L123.84 279.36 L124.88 278.64 L125.93 277.92 L126.97 277.2 L128.02 276.48 L129.06 275.77 L130.11 275.06 L131.16 274.35 L132.22 273.64 L133.27 272.93 L134.33 272.23 L135.39 271.54 L136.45 270.85 L137.52 270.16 L138.59 269.48 L139.66 268.81 L140.74 268.14 L141.82 267.47 L142.91 266.82 L144 266.17 L145.1 265.53 L146.2 264.89 L147.31 264.27 L148.42 263.64 L149.53 263.03 L150.65 262.41 L151.77 261.81 L152.89 261.2 L154.01 260.6 L155.14 260 L156.26 259.4 L157.39 258.8 L158.51 258.2 L159.63 257.6 L160.76 257 L161.88 256.4 L163 255.8 L164.11 255.19 L165.24 254.6 L166.36 254.01 L167.49 253.44 L168.63 252.88 L169.79 252.35 L170.95 251.85 L172.13 251.4 L173.33 251 L174.54 250.68 L175.78 250.44 L177.03 250.31 L178.3 250.29 L179.6 250.4 L180.5 253.2 L181.4 256.9 L182.1 259.5" fill="none" stroke="#0a6428" stroke-width="1.65" stroke-linejoin="round"/>
<path d="M66.4 342 L67.18 340.67 L67.97 339.33 L68.76 338 L69.55 336.67 L70.36 335.34 L71.17 334.02 L71.99 332.7 L72.82 331.39 L73.65 330.08 L74.5 328.78 L75.36 327.49 L76.24 326.2 L77.12 324.93 L78.03 323.67 L78.94 322.42 L79.88 321.18 L80.82 319.96 L81.79 318.75 L82.77 317.55 L83.76 316.36 L84.77 315.18 L85.8 314.02 L86.84 312.87 L87.89 311.74 L88.96 310.62 L90.03 309.5 L91.13 308.41 L92.23 307.32 L93.35 306.25 L94.48 305.19 L95.62 304.14 L96.77 303.1 L97.93 302.08 L99.1 301.06 L100.28 300.06 L101.47 299.06 L102.67 298.08 L103.88 297.1 L105.09 296.13 L106.31 295.17 L107.53 294.22 L108.76 293.27 L109.99 292.32 L111.23 291.38 L112.46 290.45 L113.71 289.52 L114.95 288.59 L116.2 287.67 L117.44 286.75 L118.7 285.83 L119.95 284.92 L121.21 284.01 L122.47 283.11 L123.73 282.21 L125 281.32 L126.27 280.44 L127.55 279.56 L128.83 278.68 L130.11 277.82 L131.4 276.96 L132.69 276.1 L133.99 275.26 L135.29 274.42 L136.6 273.59 L137.91 272.76 L139.22 271.94 L140.54 271.13 L141.87 270.32 L143.19 269.52 L144.52 268.72 L145.85 267.93 L147.19 267.14 L148.53 266.36 L149.87 265.58 L151.22 264.81 L152.57 264.05 L153.92 263.29 L155.27 262.53 L156.63 261.78 L157.99 261.03 L159.35 260.29 L160.71 259.55 L162.08 258.81 L163.44 258.08 L164.81 257.35 L166.18 256.63 L167.56 255.91 L168.93 255.19 L170.31 254.48 L171.68 253.76 L173.06 253.06 L174.44 252.35 L175.82 251.65 L177.2 250.94 L178.59 250.24 L179.97 249.54 L181.36 248.85 L182.74 248.15 L184.13 247.46 L185.51 246.77 L186.9 246.07 L188.29 245.38 L189.68 244.69 L191.07 244 L192.46 243.31 L193.85 242.62 L195.24 241.94 L196.64 241.27 L198.04 240.61 L199.44 239.96 L200.85 239.32 L202.27 238.69 L203.69 238.09 L205.12 237.5 L206.56 236.93 L208 236.38 L209.46 235.86 L210.92 235.37 L212.4 234.9 L212.6 255.7" fill="none" stroke="#ff8c1a" stroke-width="1.65" stroke-linejoin="round"/>
<path d="M74.1 214.4 H93.6" stroke="#e31118" stroke-width="1.3" fill="none"/>
<text transform="translate(94.9 218.11) scale(0.928 0.963)" font-size="10.3" class="lg" style="fill:#e31118;stroke:#e31118">Untreated</text>
<path d="M74.1 224.9 H93.6" stroke="#ff1493" stroke-width="1.3" fill="none" stroke-dasharray="2.5 1.75"/>
<text transform="translate(94.9 228.61) scale(0.928 0.963)" font-size="10.3" class="lg" style="fill:#ff1493;stroke:#ff1493">Wash</text>
<path d="M74.1 235 H93.6" stroke="#0000ff" stroke-width="1.3" fill="none"/>
<text transform="translate(94.9 238.71) scale(0.928 0.963)" font-size="10.3" class="lg" style="fill:#0000ff;stroke:#0000ff">CMC 1 wt.%</text>
<path d="M74.1 245.5 H93.6" stroke="#0a6428" stroke-width="1.3" fill="none"/>
<text transform="translate(94.9 249.21) scale(0.928 0.963)" font-size="10.3" class="lg" style="fill:#0a6428;stroke:#0a6428">CMC 2 wt.%</text>
<path d="M74.1 255.9 H93.6" stroke="#ff8c1a" stroke-width="1.3" fill="none"/>
<text transform="translate(94.9 259.61) scale(0.928 0.963)" font-size="10.3" class="lg" style="fill:#ff8c1a;stroke:#ff8c1a">CMC 3 wt.%</text>
</g>
</svg>
</body></html>
